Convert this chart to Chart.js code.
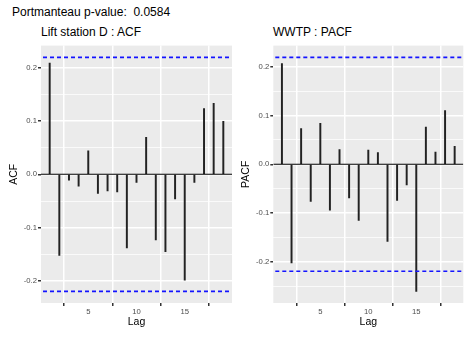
<!DOCTYPE html>
<html>
<head>
<meta charset="utf-8">
<script src="https://cdn.jsdelivr.net/npm/chart.js@4/dist/chart.umd.min.js"></script>
<style>
  body { margin: 0; width: 474px; height: 338px; background: #fff; position: relative; overflow: hidden;
         font-family: "Liberation Sans", Arial, sans-serif; }
  .txt { position: absolute; color: #000; white-space: pre; line-height: 14px; font-size: 12px; }
  canvas { position: absolute; top: 40px; }
</style>
</head>
<body>
<div class="txt" style="left:12px; top:5px;">Portmanteau p-value:  0.0584</div>
<div class="txt" style="left:41px; top:25px;">Lift station D : ACF</div>
<div class="txt" style="left:273px; top:25px;">WWTP : PACF</div>
<canvas id="grafAcf" width="237" height="298" style="left:0px;"></canvas>
<canvas id="grafPacf" width="242" height="298" style="left:232px;"></canvas>

<script>
// lags and estimated correlations
let lags = [1, 2, 3, 4, 5, 6, 7, 8, 9, 10, 11, 12, 13, 14, 15, 16, 17, 18, 19];
let acfVals = [0.208, -0.152, -0.011, -0.022, 0.044, -0.036, -0.031, -0.033, -0.138, -0.015,
               0.069, -0.123, -0.145, -0.046, -0.198, -0.015, 0.123, 0.133, 0.099];
let pacfVals = [0.206, -0.202, 0.073, -0.076, 0.084, -0.094, 0.030, -0.069, -0.115, 0.029,
                0.024, -0.158, -0.074, -0.042, -0.260, 0.076, 0.025, 0.110, 0.037];
let ciBound = 0.219; // 1.96 / sqrt(n)
let xTicks = [5, 10, 15];

Chart.defaults.font.family = '"Liberation Sans", Arial, sans-serif';

// gray panel behind the grid
const panelBg = {
  id: "panelBg",
  beforeDraw(chart) {
    const a = chart.chartArea;
    chart.ctx.save();
    chart.ctx.fillStyle = "#EBEBEB";
    chart.ctx.fillRect(a.left, a.top, a.right - a.left, a.bottom - a.top);
    chart.ctx.restore();
  },
};

// blue dashed significance bounds at +/- ciBound
const bandas = {
  id: "bandas",
  afterDatasetsDraw(chart) {
    const a = chart.chartArea;
    const ctx = chart.ctx;
    ctx.save();
    ctx.strokeStyle = "rgb(20, 20, 255)";
    ctx.lineWidth = 1.7;
    ctx.setLineDash([4, 3]);
    [ciBound, -ciBound].forEach((v) => {
      const y = chart.scales.y.getPixelForValue(v);
      ctx.beginPath();
      ctx.moveTo(a.left + 2, y);
      ctx.lineTo(a.right, y);
      ctx.stroke();
    });
    ctx.restore();
  },
};

function esMayor(v) {
  return Math.abs(v * 10 - Math.round(v * 10)) < 1e-6;
}

function graficar(id, valores, titulo, padRight, yWidth) {
  // same expansion as ggplot: 5% of the data range on each side
  let lo = Math.min(Math.min(...valores), -ciBound);
  let hi = Math.max(Math.max(...valores), ciBound);
  let yMin = lo - (hi - lo) * 0.05;
  let yMax = hi + (hi - lo) * 0.05;
  let xMin = lags[0] - (lags[lags.length - 1] - lags[0]) * 0.05;
  let xMax = lags[lags.length - 1] + (lags[lags.length - 1] - lags[0]) * 0.05;

  let yTicks = [];
  for (let k = Math.ceil(yMin / 0.05); k <= Math.floor(yMax / 0.05); k++) {
    yTicks.push(Math.round(k * 5) / 100);
  }

  new Chart(id, {
    type: "bar",
    data: {
      datasets: [
        {
          type: "line",
          data: [{ x: xMin, y: 0 }, { x: xMax, y: 0 }],
          borderColor: "#000000",
          borderWidth: 1.1,
          pointRadius: 0,
        },
        {
          data: lags.map((l, i) => ({ x: l, y: valores[i] })),
          backgroundColor: "#222222",
          barThickness: 1.3,
        },
      ],
    },
    options: {
      responsive: false,
      animation: false,
      events: [],
      layout: { padding: { top: 3, right: padRight, bottom: 0, left: 0 } },
      plugins: { legend: { display: false }, tooltip: { enabled: false } },
      scales: {
        x: {
          type: "linear",
          offset: false,
          min: xMin,
          max: xMax,
          afterBuildTicks: (s) => { s.ticks = xTicks.map((v) => ({ value: v })); },
          afterFit: (s) => { s.height = 35; },
          border: { display: false },
          grid: { color: "#FFFFFF", lineWidth: 1.5, tickColor: "#333333", tickLength: 3 },
          ticks: { color: "#4D4D4D", font: { size: 7.7 }, padding: 1, maxRotation: 0 },
          title: { display: true, text: "Lag", color: "#000", font: { size: 10.5 }, padding: { top: 0, bottom: 9.7 } },
        },
        y: {
          min: yMin,
          max: yMax,
          afterBuildTicks: (s) => { s.ticks = yTicks.map((v) => ({ value: v })); },
          afterFit: (s) => { s.width = yWidth; },
          border: { display: false },
          grid: {
            color: "#FFFFFF",
            lineWidth: (c) => (esMayor(c.tick.value) ? 1.5 : 0.75),
            tickColor: (c) => (esMayor(c.tick.value) ? "#333333" : "rgba(0,0,0,0)"),
            tickLength: 3,
          },
          ticks: {
            color: "#4D4D4D",
            font: { size: 7.7 },
            padding: 1,
            callback: (v) => (esMayor(v) ? v.toFixed(1) : ""),
          },
          title: { display: true, text: titulo, color: "#000", font: { size: 10.5 }, padding: { top: 7.5, bottom: 0 } },
        },
      },
    },
    plugins: [panelBg, bandas],
  });
}

graficar("grafAcf", acfVals, "ACF", 5, 41);
graficar("grafPacf", pacfVals, "PACF", 10.7, 41.3);
</script>
</body>
</html>
